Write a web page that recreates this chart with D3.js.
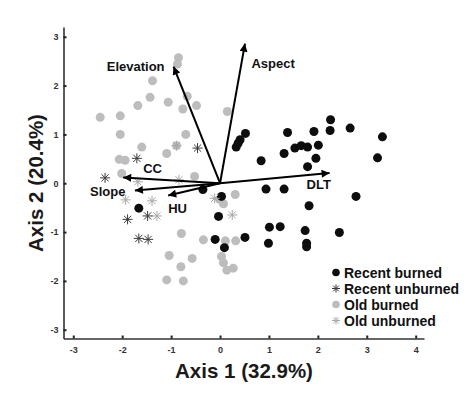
<!DOCTYPE html>
<html>
<head>
<meta charset="utf-8">
<script src="https://cdn.jsdelivr.net/npm/d3@7"></script>
<style>
  body { margin: 0; background: #fff; }
  text { font-family: Arial, "Liberation Sans", sans-serif; font-weight: bold; }
</style>
</head>
<body>
<div id="chart"></div>
<script>
// site scores [axis1, axis2]
const recentBurned = [
    [0.52, 1.02], [0.41, 0.89], [0.37, 0.82], [0.33, 0.74], [1.38, 1.04], [1.92, 1.06],
    [2.26, 1.30], [2.25, 1.08], [2.66, 1.13], [3.32, 0.95], [0.84, 0.46], [1.31, 0.61],
    [1.53, 0.72], [1.66, 0.77], [1.79, 0.74], [2.01, 0.78], [1.96, 0.51], [1.79, 0.34],
    [3.22, 0.52], [-0.35, -0.13], [0.94, -0.12], [1.31, -0.12], [2.78, -0.27], [1.82, -0.46],
    [0.03, -0.27], [-0.03, -0.68], [1.01, -0.90], [1.23, -0.89], [1.74, -0.97], [2.44, -1.01],
    [0.99, -1.23], [1.77, -1.23], [1.77, -1.30], [-0.10, -1.15], [0.09, -1.32], [0.51, -1.11],
    [-1.66, -0.51]
];
const recentUnburned = [
    [-2.35, 0.11], [-1.70, 0.51], [-0.46, 0.72], [-1.89, -0.74], [-1.48, -0.67],
    [-1.66, -1.13], [-1.47, -1.15]
];
const oldBurned = [
    [-0.85, 2.57], [-0.87, 2.44], [-1.38, 2.10], [-1.43, 1.76], [-1.68, 1.59], [-1.06, 1.66],
    [-0.67, 1.78], [-0.76, 1.52], [-0.48, 1.59], [-2.45, 1.35], [-2.04, 1.38], [-2.04, 1.00],
    [-0.70, 1.00], [0.15, 1.47], [-1.60, 0.74], [-1.09, 0.61], [-0.89, 0.77], [-2.06, 0.49],
    [-1.94, 0.47], [-2.01, 0.20], [-0.52, 0.14], [0.31, -0.23], [-0.01, -0.33], [0.07, -0.42],
    [-0.79, -1.03], [-0.34, -1.16], [0.11, -1.18], [0.32, -1.18], [-1.04, -1.48], [-0.57, -1.54],
    [0.03, -1.50], [-0.80, -1.71], [0.07, -1.63], [0.27, -1.74], [0.14, -1.78], [-1.09, -1.98],
    [-0.75, -2.00]
];
const oldUnburned = [
    [-0.89, 0.77], [-1.68, 0.03], [-0.84, 0.07], [-1.93, -0.34], [-1.39, -0.36],
    [-1.29, -0.67], [-0.11, -0.31], [0.25, -0.65]
];

// environmental vectors
const vectorNames = ["Elevation", "Aspect", "DLT", "CC", "Slope", "HU"];
const vectorAxis1 = [-0.95, 0.51, 2.24, -1.98, -1.74, -1.06];
const vectorAxis2 = [2.39, 2.86, 0.21, 0.12, -0.15, -0.25];

const xTicks = [-3, -2, -1, 0, 1, 2, 3, 4];
const yTicks = [-3, -2, -1, 0, 1, 2, 3];
const xTitle = "Axis 1 (32.9%)";
const yTitle = "Axis 2 (20.4%)";
const legendLabels = ["Recent burned", "Recent unburned", "Old burned", "Old unburned"];

const width = 474, height = 399;
const margin = { top: 27, right: 50, bottom: 60.5, left: 63.5 };

const svg = d3.select("#chart").append("svg")
    .attr("width", width)
    .attr("height", height);

const x = d3.scaleLinear().domain([-3.2, 4.17]).range([margin.left, width - margin.right]);
const y = d3.scaleLinear().domain([-3.18, 3.2]).range([height - margin.bottom, margin.top]);

// 8-armed asterisk marker
const asterisk = {
    draw(context, size) {
        const r = Math.sqrt(size) / 2;
        const d = r * 0.72;
        context.moveTo(-r, 0); context.lineTo(r, 0);
        context.moveTo(0, -r); context.lineTo(0, r);
        context.moveTo(-d, -d); context.lineTo(d, d);
        context.moveTo(-d, d); context.lineTo(d, -d);
    }
};
const starPath = d3.symbol().type(asterisk).size(100);
const legendStar = d3.symbol().type(asterisk).size(64);

// axes
const fmt = d => String(d);
const xAxis = svg.append("g")
    .attr("transform", `translate(0,${height - margin.bottom})`)
    .call(d3.axisBottom(x).tickValues(xTicks).tickFormat(fmt)
        .tickSizeInner(-3).tickSizeOuter(0).tickPadding(8));
const yAxis = svg.append("g")
    .attr("transform", `translate(${margin.left},0)`)
    .call(d3.axisLeft(y).tickValues(yTicks).tickFormat(fmt)
        .tickSizeInner(-3).tickSizeOuter(0).tickPadding(5));

[xAxis, yAxis].forEach(function (g) {
    g.select(".domain").attr("stroke", "#333").attr("stroke-width", 1.6);
    g.selectAll(".tick line").attr("stroke", "#222").attr("stroke-width", 2);
    g.selectAll(".tick text")
        .attr("font-family", "Arial, 'Liberation Sans', sans-serif")
        .attr("font-weight", "bold")
        .attr("font-size", 9)
        .attr("fill", "#333");
});

svg.append("text")
    .attr("x", 244).attr("y", 378)
    .attr("text-anchor", "middle")
    .attr("font-size", 20.5)
    .attr("fill", "#1a1a1a")
    .text(xTitle);
svg.append("text")
    .attr("transform", "translate(43,183) rotate(-90)")
    .attr("text-anchor", "middle")
    .attr("font-size", 20.5)
    .attr("fill", "#1a1a1a")
    .text(yTitle);

// points
const pts = svg.append("g").attr("class", "points");
pts.selectAll(".old-burned").data(oldBurned).enter()
    .append("circle")
    .attr("cx", d => x(d[0])).attr("cy", d => y(d[1]))
    .attr("r", 4.5).attr("fill", "#bdbdbd");
pts.selectAll(".recent-burned").data(recentBurned).enter()
    .append("circle")
    .attr("cx", d => x(d[0])).attr("cy", d => y(d[1]))
    .attr("r", 4.5).attr("fill", "#0d0d0d");
pts.selectAll(".old-unburned").data(oldUnburned).enter()
    .append("path")
    .attr("d", starPath)
    .attr("transform", d => `translate(${x(d[0])},${y(d[1])})`)
    .attr("fill", "none").attr("stroke", "#a8a8a8").attr("stroke-width", 1);
pts.selectAll(".recent-unburned").data(recentUnburned).enter()
    .append("path")
    .attr("d", starPath)
    .attr("transform", d => `translate(${x(d[0])},${y(d[1])})`)
    .attr("fill", "none").attr("stroke", "#3a3a3a").attr("stroke-width", 1);

// arrows
svg.append("defs").append("marker")
    .attr("id", "head")
    .attr("viewBox", "0 0 10 10")
    .attr("refX", 10).attr("refY", 5)
    .attr("markerUnits", "userSpaceOnUse")
    .attr("markerWidth", 10).attr("markerHeight", 8)
    .attr("orient", "auto")
    .append("path")
    .attr("d", "M0,0L10,5L0,10Z")
    .attr("fill", "#000");

const vectors = vectorNames.map((n, i) => ({ name: n, a1: vectorAxis1[i], a2: vectorAxis2[i] }));
svg.append("g").selectAll("line").data(vectors).enter()
    .append("line")
    .attr("x1", x(0)).attr("y1", y(0))
    .attr("x2", d => x(d.a1)).attr("y2", d => y(d.a2))
    .attr("stroke", "#000").attr("stroke-width", 2)
    .attr("marker-end", "url(#head)");

// label placement next to each arrow tip
const labelOffset = {
    Elevation: [-9, 4.5, "end"],
    Aspect: [6.5, 24, "start"],
    DLT: [-23, 16, "start"],
    CC: [20, -4, "start"],
    Slope: [-9.5, 5, "end"],
    HU: [0, 17.5, "start"]
};
svg.append("g").selectAll("text").data(vectors).enter()
    .append("text")
    .attr("x", d => x(d.a1) + labelOffset[d.name][0])
    .attr("y", d => y(d.a2) + labelOffset[d.name][1])
    .attr("text-anchor", d => labelOffset[d.name][2])
    .attr("font-size", 13)
    .attr("fill", "#111")
    .text(d => d.name);

// legend
const legend = svg.append("g").attr("transform", "translate(336,272.5)");
const legendStyle = [
    { kind: "circle", color: "#0d0d0d" },
    { kind: "star", color: "#3a3a3a" },
    { kind: "circle", color: "#bdbdbd" },
    { kind: "star", color: "#a8a8a8" }
];
legendLabels.forEach(function (label, i) {
    const row = legend.append("g").attr("transform", `translate(0,${i * 16})`);
    if (legendStyle[i].kind === "circle") {
        row.append("circle").attr("r", 3.8).attr("fill", legendStyle[i].color);
    } else {
        row.append("path").attr("d", legendStar)
            .attr("fill", "none").attr("stroke", legendStyle[i].color).attr("stroke-width", 1);
    }
    row.append("text")
        .attr("x", 8).attr("dy", "0.36em")
        .attr("font-size", 14)
        .attr("fill", "#111")
        .text(label);
});
</script>
</body>
</html>
